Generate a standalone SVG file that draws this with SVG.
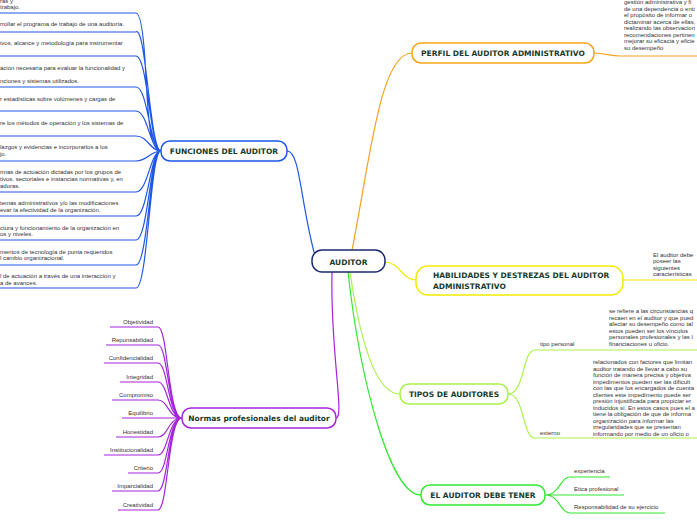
<svg xmlns="http://www.w3.org/2000/svg" width="697" height="520" viewBox="0 0 697 520">
<style>
.t{font-family:"Liberation Sans",Arial,sans-serif;font-size:6px;fill:#333}
.h{font-family:"DejaVu Sans",sans-serif;font-size:7.5px;font-weight:bold;fill:#173b2b}
.box{fill:#fff;stroke-width:1.5}
.c{fill:none;stroke-width:1.2}
</style>
<rect width="697" height="520" fill="#fff"/>
<g id="connectors">
<path class="c" stroke="#f7a21b" d="M352,250 C370,160 380,53 412,53"/>
<path class="c" stroke="#f7a21b" d="M594,53 C605,53 610,56 620,56 L697,56"/>
<path class="c" stroke="#1e56e6" d="M315,256 C300,200 300,151 287,151"/>
<path class="c" stroke="#1e56e6" d="M161,151 C150,151 148,120 145,60 C143,30 140,13 136,13 M161,151 C150,151 146,25 136,32 M161,151 C150,151 148,56 136,56 M161,151 C150,151 148,87 136,87 M161,151 C150,151 148,111 136,111 M161,151 C150,151 148,136 136,136 M161,151 C150,151 148,161 136,161 M161,151 C150,151 148,192 136,192 M161,151 C150,151 148,216 136,216 M161,151 C150,151 148,240 136,240 M161,151 C150,151 148,265 136,265 M161,151 C150,151 148,288 136,288"/>
<path class="c" stroke="#1e56e6" d="M0,13H136M0,32H136M0,56H136M0,87H136M0,111H136M0,136H136M0,161H136M0,192H136M0,216H136M0,240H136M0,265H136M0,288H136"/>
<path class="c" stroke="#f2ea00" d="M385,262 C400,262 402,280 416,280"/>
<path class="c" stroke="#f2ea00" d="M623,280 L697,280"/>
<path class="c" stroke="#a9f24a" d="M350,272 C360,340 375,394 400,394"/>
<path class="c" stroke="#a9f24a" d="M508,394 C525,394 522,350 535,350 L697,350 M508,394 C525,394 522,438 535,438 L697,438"/>
<path class="c" stroke="#33e833" d="M348,272 C360,380 390,495 421,495"/>
<path class="c" stroke="#33e833" d="M545,495 C560,495 560,477 570,477 L610,477 M545,495 L570,495 L624,495 M545,495 C560,495 560,513 570,513 L665,513"/>
<path class="c" stroke="#a424d9" d="M332,272 C330,350 345,418 336,418"/>
<path class="c" stroke="#a424d9" d="M182,418 C168,418 168,327 158,327 M182,418 C168,418 168,345 158,345 M182,418 C168,418 168,363 158,363 M182,418 C168,418 168,382 158,382 M182,418 C168,418 168,400 158,400 M182,418 L158,418 M182,418 C168,418 168,437 158,437 M182,418 C168,418 168,455 158,455 M182,418 C168,418 168,473 158,473 M182,418 C168,418 168,491 158,491 M182,418 C168,418 168,510 158,510"/>
<path class="c" stroke="#a424d9" d="M110,327H158M106,345H158M104,363H158M120,382H158M112,400H158M122,418H158M116,437H158M104,455H158M128,473H158M112,491H158M118,510H158"/>
</g>
<g id="auditor"><rect class="box" x="312" y="250" width="73" height="22" rx="10" stroke="#1a2a6b"/><text class="h" x="348.5" y="264.5" text-anchor="middle" font-size="9">AUDITOR</text></g>
<g id="perfil"><rect class="box" x="412" y="43" width="182" height="20" rx="9" stroke="#f7a21b"/><text class="h" x="503" y="56" text-anchor="middle">PERFIL DEL AUDITOR ADMINISTRATIVO</text>
<text class="t" x="624"><tspan x="624" y="4">gestión administrativa y fi</tspan><tspan x="624" y="10.5">de una dependencia o enti</tspan><tspan x="624" y="17">el propósito de informar o</tspan><tspan x="624" y="23.5">dictaminar acerca de ellas,</tspan><tspan x="624" y="30">realizando las observacion</tspan><tspan x="624" y="36.5">recomendaciones pertinen</tspan><tspan x="624" y="43">mejorar su eficacia y eficie</tspan><tspan x="624" y="49.5">su desempeño</tspan></text></g>
<g id="funciones"><rect class="box" x="161" y="141" width="126" height="20" rx="9" stroke="#1e56e6"/><text class="h" x="224" y="154" text-anchor="middle">FUNCIONES DEL AUDITOR</text>
<text class="t"><tspan x="0" y="3">ras y</tspan><tspan x="0" y="9">trabajo.</tspan>
<tspan x="0" y="26">rrollar el programa de trabajo de una auditoría.</tspan>
<tspan x="0" y="45">ivos, alcance y metodología para instrumentar</tspan>
<tspan x="0" y="70">ación necesaria para evaluar la funcionalidad y</tspan><tspan x="0" y="83">nciones y sistemas utilizados.</tspan>
<tspan x="0" y="101">r estadísticas sobre volúmenes y cargas de</tspan>
<tspan x="0" y="125">re los métodos de operación y los sistemas de</tspan>
<tspan x="0" y="149">lazgos y evidencias e incorporarlos a los</tspan><tspan x="0" y="156">jo.</tspan>
<tspan x="0" y="174">rmas de actuación dictadas por los grupos de</tspan><tspan x="0" y="181">tivos, sectoriales e instancias normativas y, en</tspan><tspan x="0" y="187.5">adoras.</tspan>
<tspan x="0" y="205">temas administrativos y/o las modificaciones</tspan><tspan x="0" y="212">evar la efectividad de la organización.</tspan>
<tspan x="0" y="230">ctura y funcionamiento de la organización en</tspan><tspan x="0" y="236">os y niveles.</tspan>
<tspan x="0" y="254">mentos de tecnología de punta requeridos</tspan><tspan x="0" y="260">l cambio organizacional.</tspan>
<tspan x="0" y="278">l de actuación a través de una interacción y</tspan><tspan x="0" y="284.5">a de avances.</tspan></text></g>
<g id="habilidades"><rect class="box" x="416" y="266" width="207" height="29" rx="12" stroke="#f2ea00"/><text class="h" x="433" y="278">HABILIDADES Y DESTREZAS DEL AUDITOR</text><text class="h" x="433" y="288.5">ADMINISTRATIVO</text>
<text class="t"><tspan x="653" y="257">El auditor debe</tspan><tspan x="653" y="263">poseer las</tspan><tspan x="653" y="269.5">siguientes</tspan><tspan x="653" y="275.5">características</tspan></text></g>
<g id="tipos"><rect class="box" x="400" y="384" width="108" height="20" rx="9" stroke="#a9f24a"/><text class="h" x="454" y="397" text-anchor="middle">TIPOS DE AUDITORES</text>
<text class="t" x="540" y="346">tipo personal</text><text class="t" x="540" y="435">externo</text>
<text class="t"><tspan x="609" y="313">se refiere a las circunstancias q</tspan><tspan x="609" y="319.5">recaen en el auditor y que pued</tspan><tspan x="609" y="326">afectar su desempeño como tal</tspan><tspan x="609" y="332.5">estos pueden ser los vínculos</tspan><tspan x="609" y="339">personales profesionales y las l</tspan><tspan x="609" y="345.5">financiaciones u oficio.</tspan></text>
<text class="t"><tspan x="593" y="364">relacionados con factores que limitan</tspan><tspan x="593" y="370.5">auditor tratando de llevar a cabo su</tspan><tspan x="593" y="377">función de manera precisa y objetiva</tspan><tspan x="593" y="383.5">impedimentos pueden ser las dificult</tspan><tspan x="593" y="390">con las que los encargados de cuenta</tspan><tspan x="593" y="396.5">clientes este impedimento puede ser</tspan><tspan x="593" y="403">presión injustificada para propiciar er</tspan><tspan x="593" y="409.5">inducidos sí. En estos casos pues el a</tspan><tspan x="593" y="416">tiene la obligación de que de informa</tspan><tspan x="593" y="422.5">organización para informar las</tspan><tspan x="593" y="429">irregularidades que se presentan</tspan><tspan x="593" y="435.5">informando por medio de un oficio o</tspan></text></g>
<g id="tener"><rect class="box" x="421" y="485" width="124" height="20" rx="9" stroke="#33e833"/><text class="h" x="483" y="498" text-anchor="middle">EL AUDITOR DEBE TENER</text>
<text class="t" x="574" y="473">experiencia</text><text class="t" x="574" y="491">Etica profesional</text><text class="t" x="574" y="509">Responsabilidad de su ejercicio</text></g>
<g id="normas"><rect class="box" x="182" y="408" width="154" height="20" rx="9" stroke="#a424d9"/><text class="h" x="259" y="421" text-anchor="middle">Normas profesionales del auditor</text>
<g class="t" text-anchor="end"><text x="153" y="324">Objetividad</text><text x="153" y="342">Reponsabilidad</text><text x="153" y="360">Confidencialidad</text><text x="153" y="379">Integridad</text><text x="153" y="397">Compromiso</text><text x="153" y="415">Equilibrio</text><text x="153" y="434">Honestidad</text><text x="153" y="452">Institucionalidad</text><text x="153" y="470">Criterio</text><text x="153" y="488">Imparcialidad</text><text x="153" y="507">Creatividad</text></g></g>
</svg>
